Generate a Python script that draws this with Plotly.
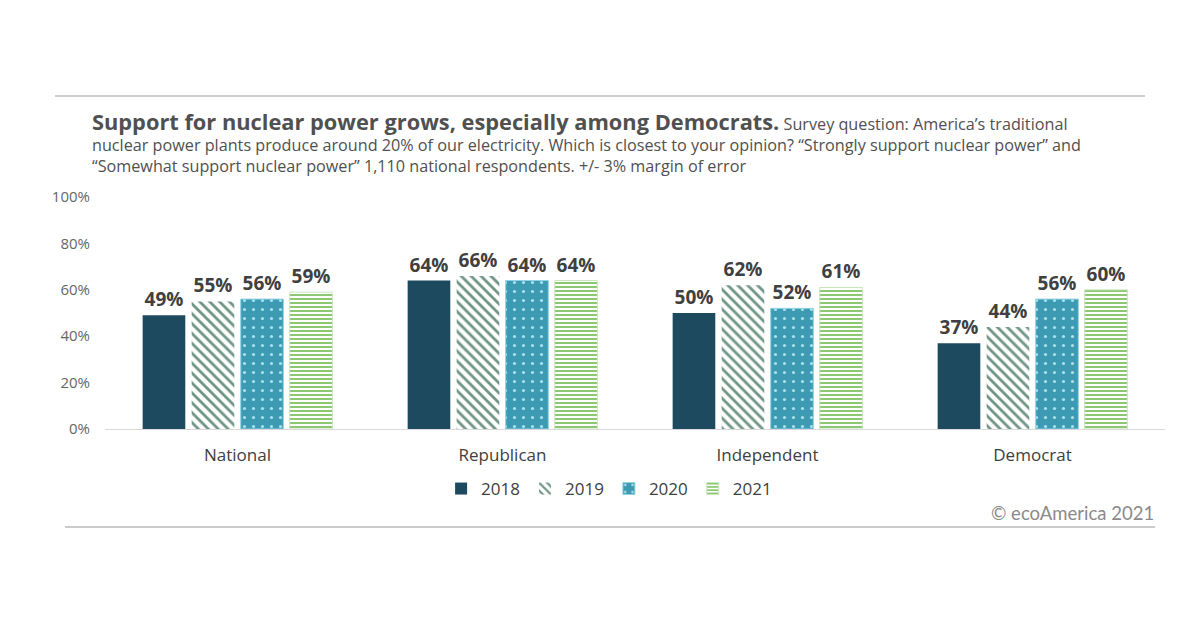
import plotly.graph_objects as go

categories = ["National", "Republican", "Independent", "Democrat"]
years = ["2018", "2019", "2020", "2021"]
v2018 = [49, 64, 50, 37]
v2019 = [55, 66, 62, 44]
v2020 = [56, 64, 52, 56]
v2021 = [59, 64, 61, 60]
yticks = [0, 20, 40, 60, 80, 100]
ytick_labels = ["0%", "20%", "40%", "60%", "80%", "100%"]

series = [v2018, v2019, v2020, v2021]
styles = [
    dict(color="#1d4a5e", pattern=dict(shape=""), line=dict(width=0)),
    dict(color="#ffffff", pattern=dict(shape="\\", fgcolor="#6f9585", bgcolor="#ffffff", fgopacity=1,
                                       size=7, solidity=0.4, fillmode="overlay"), line=dict(width=0)),
    dict(color="#3c9ab2", pattern=dict(shape=".", fgcolor="#a8e0ec", bgcolor="#3c9ab2", fgopacity=1,
                                       size=9, solidity=0.1, fillmode="overlay"),
         line=dict(width=1, color="#8fd3e3")),
    dict(color="#ffffff", pattern=dict(shape="-", fgcolor="#8cc874", bgcolor="#ffffff", fgopacity=1,
                                       size=4, solidity=0.5, fillmode="overlay"),
         line=dict(width=1, color="#c9e6bb")),
]

# page offset compensation: target pixel p -> figure pixel p - OFF
OFF = 8
W, H = 1200 - OFF, 627 - OFF
L, T = 105 - OFF, 197 - OFF
PW, PH = 1060, 232

fig = go.Figure()
for yr, vals, st in zip(years, series, styles):
    fig.add_trace(go.Bar(
        name=yr, x=categories, y=vals,
        marker=dict(color=st["color"], pattern=st["pattern"], line=st["line"]),
        text=[f"{v}%" for v in vals], textposition="outside", cliponaxis=False,
        textfont=dict(family="Open Sans", size=19, color="#404040", weight="bold"),
    ))

def yp(py):
    return (T + PH - (py - OFF)) / PH

def xp(px):
    return (px - OFF - L) / PW

fig.update_layout(
    width=W, height=H,
    paper_bgcolor="white", plot_bgcolor="white",
    margin=dict(l=L, r=W - L - PW, t=T, b=H - T - PH),
    barmode="group", bargap=0.26, bargroupgap=0.13,
    font=dict(family="Open Sans", color="#555555"),
    showlegend=True,
    legend=dict(orientation="h", x=0.485 - 10 / 1060, xanchor="center", y=yp(471), yanchor="top",
                font=dict(size=17, color="#404040"), itemwidth=30, traceorder="normal"),
    xaxis=dict(showline=True, linecolor="#d9d9d9", linewidth=1, ticks="",
               tickfont=dict(size=17, color="#404040"), ticklabelstandoff=11),
    yaxis=dict(range=[0, 100], tickvals=yticks, ticktext=ytick_labels, showgrid=False,
               zeroline=False, tickfont=dict(size=15, color="#666666"), ticklabelstandoff=14),
)

fig.add_shape(type="line", xref="paper", yref="paper", x0=xp(55), x1=xp(1145),
              y0=yp(96), y1=yp(96), line=dict(color="#999999", width=1))
fig.add_shape(type="line", xref="paper", yref="paper", x0=xp(65), x1=xp(1155),
              y0=yp(527), y1=yp(527), line=dict(color="#999999", width=1))

title_text = (
    "<span style='font-size:21.8px'><b>Support for nuclear power grows, especially among Democrats.</b></span>"
    " Survey question: America\u2019s traditional<br>"
    "nuclear power plants produce around 20% of our electricity. Which is closest to your opinion? "
    "\u201cStrongly support nuclear power\u201d and<br>"
    "\u201cSomewhat support nuclear power\u201d 1,110 national respondents. +/- 3% margin of error"
)
fig.add_annotation(xref="paper", yref="paper", x=xp(90), y=yp(142), xanchor="left", yanchor="middle",
                   showarrow=False, align="left", text=title_text,
                   font=dict(family="Open Sans", size=16.2, color="#505050"))
fig.add_annotation(xref="paper", yref="paper", x=xp(1156), y=yp(513), xanchor="right", yanchor="middle",
                   showarrow=False, text="\u00a9 ecoAmerica 2021",
                   font=dict(family="Lato", size=18.5, color="#8a8a8a"))

fig.write_html("out.html")
